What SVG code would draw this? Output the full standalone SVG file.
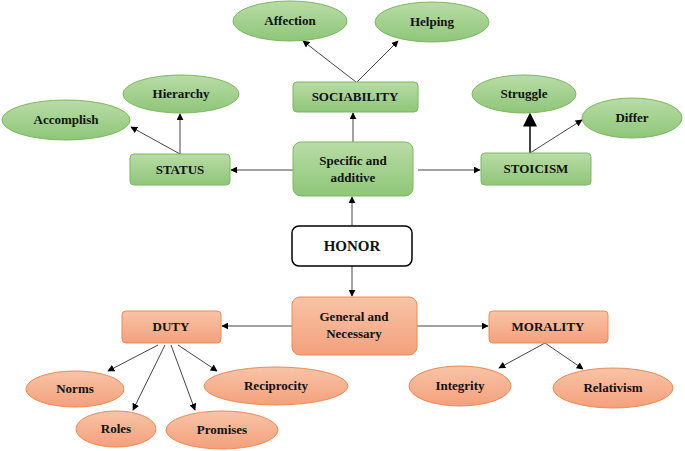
<svg xmlns="http://www.w3.org/2000/svg" width="685" height="451" viewBox="0 0 685 451">
<defs>
<linearGradient id="g" x1="0" y1="0" x2="0" y2="1"><stop offset="0" stop-color="#b9dca6"/><stop offset="1" stop-color="#8ec679"/></linearGradient>
<linearGradient id="o" x1="0" y1="0" x2="0" y2="1"><stop offset="0" stop-color="#f8c4a6"/><stop offset="1" stop-color="#f4a07c"/></linearGradient>
<marker id="a" viewBox="0 0 10 10" refX="9" refY="5" markerWidth="7" markerHeight="7" orient="auto-start-reverse"><path d="M0,0L10,5L0,10z" fill="#000"/></marker>
<style>
.gn{fill:url(#g);stroke:#7db761;stroke-width:1}
.on{fill:url(#o);stroke:#ed8a55;stroke-width:1}
text{font-family:"Liberation Serif",serif;font-weight:bold;font-size:13px;text-anchor:middle;fill:#111}
.c line{stroke:#444;stroke-width:1;marker-end:url(#a)}
</style>
</defs>
<g class="c">
<line x1="353" y1="142" x2="353" y2="113"/>
<line x1="356" y1="82" x2="303" y2="41"/>
<line x1="357" y1="82" x2="398" y2="41"/>
<line x1="293" y1="170" x2="231" y2="170"/>
<line x1="180" y1="154" x2="180" y2="114"/>
<line x1="180" y1="154" x2="131" y2="127"/>
<line x1="418" y1="170" x2="480" y2="170"/>
<line x1="530" y1="153" x2="530" y2="114" style="stroke-width:2"/>
<line x1="530" y1="153" x2="582" y2="120"/>
<line x1="352" y1="226" x2="352" y2="197"/>
<line x1="352" y1="266" x2="352" y2="296"/>
<line x1="292" y1="326" x2="222" y2="326"/>
<line x1="417" y1="326" x2="488" y2="326"/>
<line x1="158" y1="345" x2="108" y2="371"/>
<line x1="165" y1="345" x2="133" y2="410"/>
<line x1="171" y1="345" x2="195" y2="410"/>
<line x1="178" y1="345" x2="217" y2="371"/>
<line x1="545" y1="343" x2="499" y2="368"/>
<line x1="545" y1="343" x2="583" y2="369"/>
</g>
<g id="affection"><ellipse class="gn" cx="290" cy="21" rx="57" ry="20"/><text x="290" y="25">Affection</text></g>
<g id="helping"><ellipse class="gn" cx="432" cy="22" rx="57" ry="20"/><text x="432" y="26">Helping</text></g>
<g id="sociability"><rect class="gn" x="293" y="82" width="125" height="30" rx="4"/><text x="355" y="101">SOCIABILITY</text></g>
<g id="hierarchy"><ellipse class="gn" cx="181" cy="94" rx="58" ry="19"/><text x="181" y="98">Hierarchy</text></g>
<g id="accomplish"><ellipse class="gn" cx="66" cy="120" rx="64" ry="20"/><text x="66" y="124">Accomplish</text></g>
<g id="status"><rect class="gn" x="130" y="154" width="100" height="31" rx="4"/><text x="180" y="174">STATUS</text></g>
<g id="specific"><rect class="gn" x="293" y="142" width="120" height="54" rx="8"/><text x="353" y="165">Specific and</text><text x="353" y="182">additive</text></g>
<g id="stoicism"><rect class="gn" x="481" y="153" width="110" height="32" rx="4"/><text x="536" y="173">STOICISM</text></g>
<g id="struggle"><ellipse class="gn" cx="524" cy="94" rx="52" ry="19"/><text x="524" y="98">Struggle</text></g>
<g id="differ"><ellipse class="gn" cx="632" cy="118" rx="50" ry="20"/><text x="632" y="122">Differ</text></g>
<g id="honor"><rect x="292" y="226" width="120" height="40" rx="7" fill="#fff" stroke="#000" stroke-width="1.5"/><text x="352" y="251" style="font-size:15px">HONOR</text></g>
<g id="general"><rect class="on" x="292" y="297" width="125" height="58" rx="8"/><text x="354" y="321">General and</text><text x="354" y="338">Necessary</text></g>
<g id="duty"><rect class="on" x="122" y="311" width="99" height="32" rx="4"/><text x="171" y="331">DUTY</text></g>
<g id="morality"><rect class="on" x="489" y="311" width="119" height="32" rx="4"/><text x="548" y="331">MORALITY</text></g>
<g id="norms"><ellipse class="on" cx="75" cy="389" rx="49" ry="18"/><text x="75" y="393">Norms</text></g>
<g id="roles"><ellipse class="on" cx="116" cy="429" rx="40" ry="18"/><text x="116" y="433">Roles</text></g>
<g id="promises"><ellipse class="on" cx="222" cy="430" rx="56" ry="19"/><text x="222" y="434">Promises</text></g>
<g id="reciprocity"><ellipse class="on" cx="276" cy="386" rx="72" ry="19"/><text x="276" y="390">Reciprocity</text></g>
<g id="integrity"><ellipse class="on" cx="460" cy="386" rx="51" ry="20"/><text x="460" y="390">Integrity</text></g>
<g id="relativism"><ellipse class="on" cx="613" cy="388" rx="60" ry="20"/><text x="613" y="392">Relativism</text></g>
</svg>
